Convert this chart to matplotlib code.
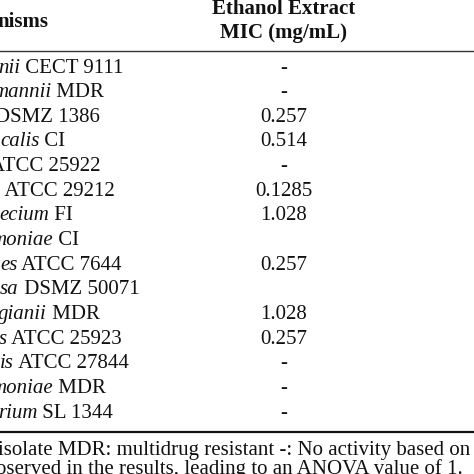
import matplotlib.pyplot as plt

# table rows (left column is cropped in the source image)
italic_part = ['nii', 'mannii', '', 'calis', '', '', 'ecium', 'moniae', 'es', 'sa',
               'gianii', 's', 'is', 'moniae', 'rium']
plain_part = [' CECT 9111', ' MDR', 'DSMZ 1386', ' CI', 'ATCC 25922', '. ATCC 29212', ' FI',
              ' CI', ' ATCC 7644', ' DSMZ 50071', ' MDR', ' ATCC 25923', ' ATCC 27844',
              ' MDR', ' SL 1344']
x_start = [-2, -7, -5, 0, -10, -5, -1, -9, 0, 0, -2, -1, 0, -9, -2]
mic = ['-', '-', '0.257', '0.514', '-', '0.1285', '1.028', '', '0.257', '', '1.028',
       '0.257', '-', '-', '-']
footer = ['isolate MDR: multidrug resistant -: No activity based on the t',
          'oserved in the results, leading to an ANOVA value of 1.']

W = H = 474
fig = plt.figure(figsize=(4.74, 4.74), dpi=100)
ax = fig.add_axes([0, 0, 1, 1])
ax.set_xlim(0, W)
ax.set_ylim(H, 0)
ax.axis('off')
fam = ['Liberation Serif', 'DejaVu Serif']
fs = 15
col = '#111111'

ax.text(-3, 22, 'nisms', fontsize=fs, fontweight='bold', family=fam, va='center', color=col)
ax.text(284, 9, 'Ethanol Extract', fontsize=fs, fontweight='bold', family=fam,
        va='center', ha='center', color=col)
ax.text(284, 33, 'MIC (mg/mL)', fontsize=fs, fontweight='bold', family=fam,
        va='center', ha='center', color=col)
ax.plot([0, W], [51, 51], color='#333333', lw=1.0)
ax.plot([0, W], [432, 432], color='#111111', lw=1.6)

fig.canvas.draw()
r = fig.canvas.get_renderer()
inv = ax.transData.inverted()
step = (413 - 68) / 14
for i in range(len(mic)):
    y = 68 + i * step
    x = x_start[i]
    if italic_part[i]:
        t = ax.text(x, y, italic_part[i], fontsize=fs, style='italic', family=fam,
                    va='center', color=col)
        bb = t.get_window_extent(r)
        x = inv.transform((bb.x1, bb.y0))[0]
    ax.text(x, y, plain_part[i], fontsize=fs, family=fam, va='center', color=col)
    ax.text(284, y, mic[i], fontsize=fs, family=fam, va='center', ha='center', color=col)

ax.text(-2, 450, footer[0], fontsize=fs, family=fam, va='center', color=col)
ax.text(-4, 469, footer[1], fontsize=fs, family=fam, va='center', color=col)

fig.savefig('out.png', dpi=100)
